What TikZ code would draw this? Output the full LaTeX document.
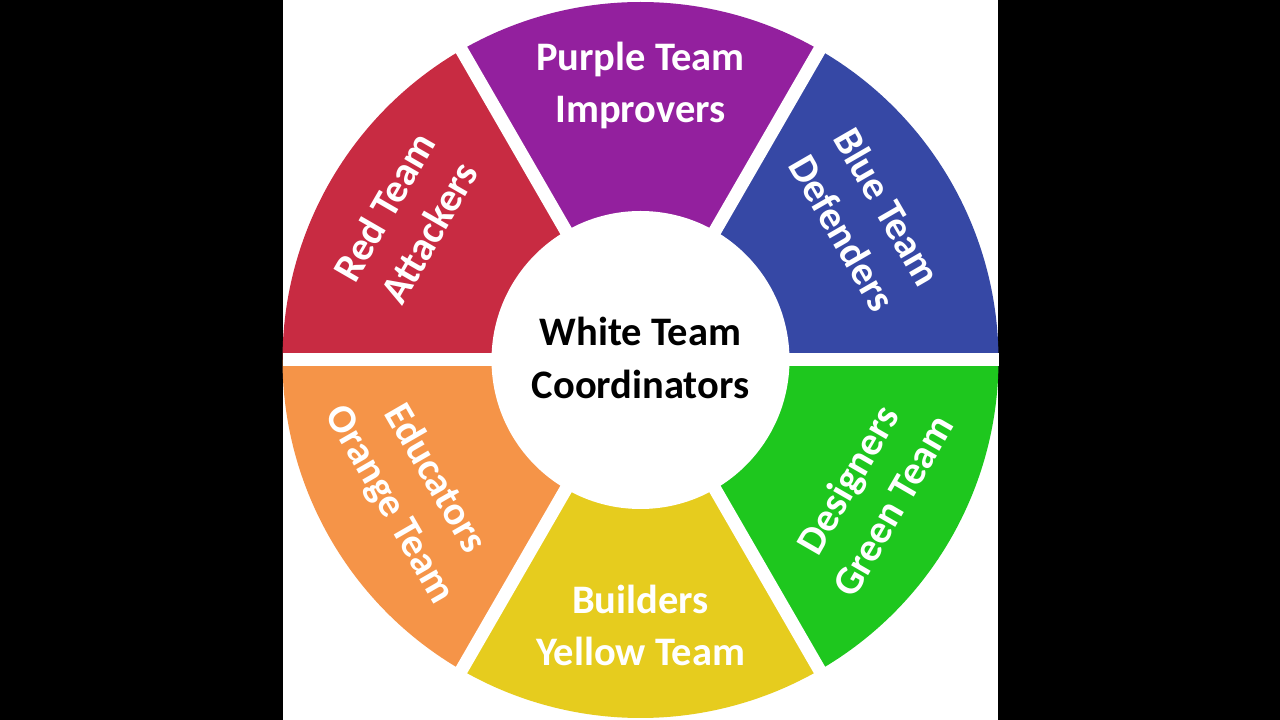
\documentclass[tikz,border=0pt]{standalone}
\usepackage{fontspec}
\setmainfont{Carlito}
\definecolor{cRed}{RGB}{200,43,66}
\definecolor{cPurple}{RGB}{147,32,158}
\definecolor{cBlue}{RGB}{54,72,165}
\definecolor{cGreen}{RGB}{30,199,30}
\definecolor{cYellow}{RGB}{230,204,30}
\definecolor{cOrange}{RGB}{245,148,72}
\tikzset{
  lbl/.style={text=white, align=center, inner sep=0pt, font=\fontsize{40.5}{52}\selectfont\bfseries},
  midlbl/.style={text=black, align=center, inner sep=0pt, font=\fontsize{40.5}{53}\selectfont\bfseries},
  gap/.style={white, line width=13pt},
}
\begin{document}
\begin{tikzpicture}[x=1pt,y=1pt]
\useasboundingbox (0,0) rectangle (1280,720);
\fill[black] (0,0) rectangle (1280,720);
\fill[white] (283,0) rectangle (998,720);
\coordinate (c) at (640.5,360);
\def\R{358}
\fill[cBlue]   (c) -- ++(0:\R)   arc[start angle=0,  end angle=60,  radius=\R] -- cycle;
\fill[cPurple] (c) -- ++(60:\R)  arc[start angle=60, end angle=120, radius=\R] -- cycle;
\fill[cRed]    (c) -- ++(120:\R) arc[start angle=120,end angle=180, radius=\R] -- cycle;
\fill[cOrange] (c) -- ++(180:\R) arc[start angle=180,end angle=240, radius=\R] -- cycle;
\fill[cYellow] (c) -- ++(240:\R) arc[start angle=240,end angle=300, radius=\R] -- cycle;
\fill[cGreen]  (c) -- ++(300:\R) arc[start angle=300,end angle=360, radius=\R] -- cycle;
\coordinate (g0) at ([shift={(0:\R)}]c);
\coordinate (g1) at ([shift={(60:\R+2)}]c);
\coordinate (g2) at ([shift={(120:\R+2)}]c);
\coordinate (g3) at ([shift={(180:\R)}]c);
\coordinate (g4) at ([shift={(240:\R+2)}]c);
\coordinate (g5) at ([shift={(300:\R+2)}]c);
\foreach \g in {g0,g1,g2,g3,g4,g5} \draw[gap] (c) -- (\g);
\node[circle, fill=white, minimum size=298pt, inner sep=0pt] (hub) at (c) {};
\node[midlbl] (white) at ([yshift=2]c) {White Team\\Coordinators};
\node[lbl] (purple) at ([shift={(90:275)}]c) {Purple Team\\Improvers};
\node[lbl, rotate=-60] (blue) at ([shift={(32:265)}]c) {Blue Team\\Defenders};
\node[lbl, rotate=60] (green) at ([shift={(-30:265)}]c) {Designers\\Green Team};
\node[lbl] (yellow) at ([shift={(270:265)}]c) {Builders\\Yellow Team};
\node[lbl, rotate=-60] (orange) at ([shift={(210:264)}]c) {Educators\\Orange Team};
\node[lbl, rotate=60] (red) at ([shift={(149:273)}]c) {Red Team\\Attackers};
\end{tikzpicture}
\end{document}
